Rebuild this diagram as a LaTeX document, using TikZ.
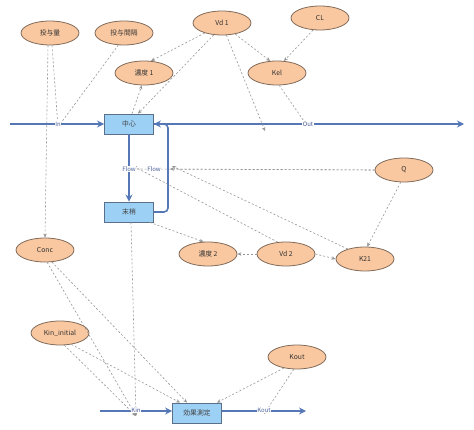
\documentclass[tikz,border=0pt]{standalone}
\usepackage{fontspec}
\setmainfont{Noto Sans CJK JP}
\usetikzlibrary{shapes.geometric,arrows.meta,calc}
\definecolor{ellfill}{RGB}{250,200,160}
\definecolor{elldraw}{RGB}{128,106,90}
\definecolor{boxfill}{RGB}{157,208,245}
\definecolor{boxdraw}{RGB}{90,111,138}
\definecolor{flowblue}{RGB}{85,119,181}
\definecolor{dgray}{RGB}{150,150,150}
\definecolor{lblblue}{RGB}{74,95,154}
\tikzset{
  var/.style={ellipse, draw=elldraw, fill=ellfill, line width=0.8pt, minimum width=58pt, minimum height=24pt, inner sep=0pt, font=\fontsize{6.8}{7}\selectfont, text=black!80},
  stock/.style={rectangle, draw=boxdraw, fill=boxfill, line width=0.8pt, minimum width=49pt, minimum height=20pt, inner sep=0pt, font=\fontsize{6.8}{7}\selectfont, text=black!75},
  flowline/.style={draw=flowblue, line width=1.6pt, -{Stealth[length=7pt,width=7pt]}},
  dep/.style={draw=dgray, line width=0.6pt, dash pattern=on 2pt off 2pt, -{Stealth[length=4pt,width=3.5pt]}},
  flbl/.style={font=\fontsize{6}{6.5}\selectfont, text=lblblue, fill=white, inner sep=0.6pt}
}
\begin{document}
\begin{tikzpicture}[x=1pt,y=-1pt]
\useasboundingbox (0,0) rectangle (474,430);
% variables
\node[var] (dose) at (50,33) {投与量};
\node[var] (interval) at (124,33) {投与間隔};
\node[var] (vd1) at (222,23) {Vd 1};
\node[var] (cl) at (320,18) {CL};
\node[var] (c1) at (144,73) {濃度 1};
\node[var] (kel) at (277,73) {Kel};
\node[var] (q) at (404,170) {Q};
\node[var] (c2) at (208,254) {濃度 2};
\node[var] (vd2) at (286,254) {Vd 2};
\node[var] (k21) at (365,259) {K21};
\node[var] (conc) at (45,250) {Conc};
\node[var] (kininit) at (60,333) {Kin\_initial};
\node[var] (kout) at (297,357) {Kout};
% stocks
\node[stock] (center) at (129,124) {中心};
\node[stock] (periph) at (129,212) {末梢};
\node[stock] (effect) at (197,413) {効果測定};
% flow points
\coordinate (inpt) at (58,124);
\coordinate (instart) at (10,124);
\coordinate (outpt) at (308,124);
\coordinate (outend) at (464,124);
\coordinate (flowL) at (129,169);
\coordinate (flowR) at (168,169);
\coordinate (retc) at (168,124);
\coordinate (retb) at (168,212);
\coordinate (vdend) at (265,131);
\coordinate (kinstart) at (100,411);
\coordinate (kinpt) at (136,411);
\coordinate (koutpt) at (264,411);
\coordinate (koutend) at (306,411);
% flows
\draw[flowline] (instart) -- (center.west);
\draw[flowline] (center.east) -- (outend);
\draw[flowline] (center.south) -- (periph.north);
\draw[flowline, rounded corners=4pt] (periph.east) -- (retb) -- (retc) -- (center.east);
\draw[flowline] (kinstart) -- (effect.west |- kinstart);
\draw[flowline] (effect.east |- koutpt) -- (koutend);
% dependencies
\draw[dep] ([xshift=2pt]dose.south) -- ([yshift=-3pt]inpt);
\draw[dep] ([xshift=-2pt]dose.south) -- (conc.north);
\draw[dep] (interval.-115) -- ([yshift=-3pt]inpt);
\draw[dep] (vd1.-150) -- (c1.60);
\draw[dep] (vd1.-125) -- ([xshift=9pt]center.north);
\draw[dep] ([xshift=3pt]center.north) -- (c1.-100);
\draw[dep] (vd1.-40) -- (kel.120);
\draw[dep] (cl.-120) -- (kel.60);
\draw[dep] (vd1.-70) -- (vdend);
\draw[dep] (kel.-80) -- ([yshift=-3pt]outpt);
\draw[dep] (q.west) -- ([xshift=2pt]flowL);
\draw[dep] (q.west) -- ([xshift=2pt]flowR);
\draw[dep] (q.-105) -- (k21.80);
\draw[dep] (vd2.west) -- (c2.east);
\draw[dep] (vd2.east) -- (k21.west);
\draw[dep] ([xshift=-4pt]periph.south east) -- (c2.110);
\draw[dep] (vd2.125) -- ([shift={(4pt,3pt)}]flowL);
\draw[dep] (k21.150) -- ([shift={(4pt,3pt)}]flowR);
\draw[dep] ([xshift=2pt]periph.south) -- ([yshift=-5pt]kinpt);
\draw[dep] (conc.-80) -- ([yshift=-5pt]kinpt);
\draw[dep] (conc.-60) -- ([xshift=-10pt]effect.north);
\draw[dep] (kininit.-70) -- ([yshift=-5pt]kinpt);
\draw[dep] (kininit.-45) -- ([xshift=-17pt]effect.north);
\draw[dep] (kout.-140) -- ([xshift=20pt]effect.north);
\draw[dep] (kout.-105) -- ([yshift=-3pt]koutpt);
% flow labels
\node[flbl] (inlbl) at (inpt) {In};
\node[flbl] (outlbl) at (outpt) {Out};
\node[flbl] (flowLlbl) at (flowL) {Flow};
\node[flbl] (flowRlbl) at (154,169) {Flow};
\node[flbl] (kinlbl) at ([yshift=1pt]kinpt) {Kin};
\node[flbl] (koutlbl) at ([yshift=1pt]koutpt) {Kout};
\end{tikzpicture}
\end{document}
